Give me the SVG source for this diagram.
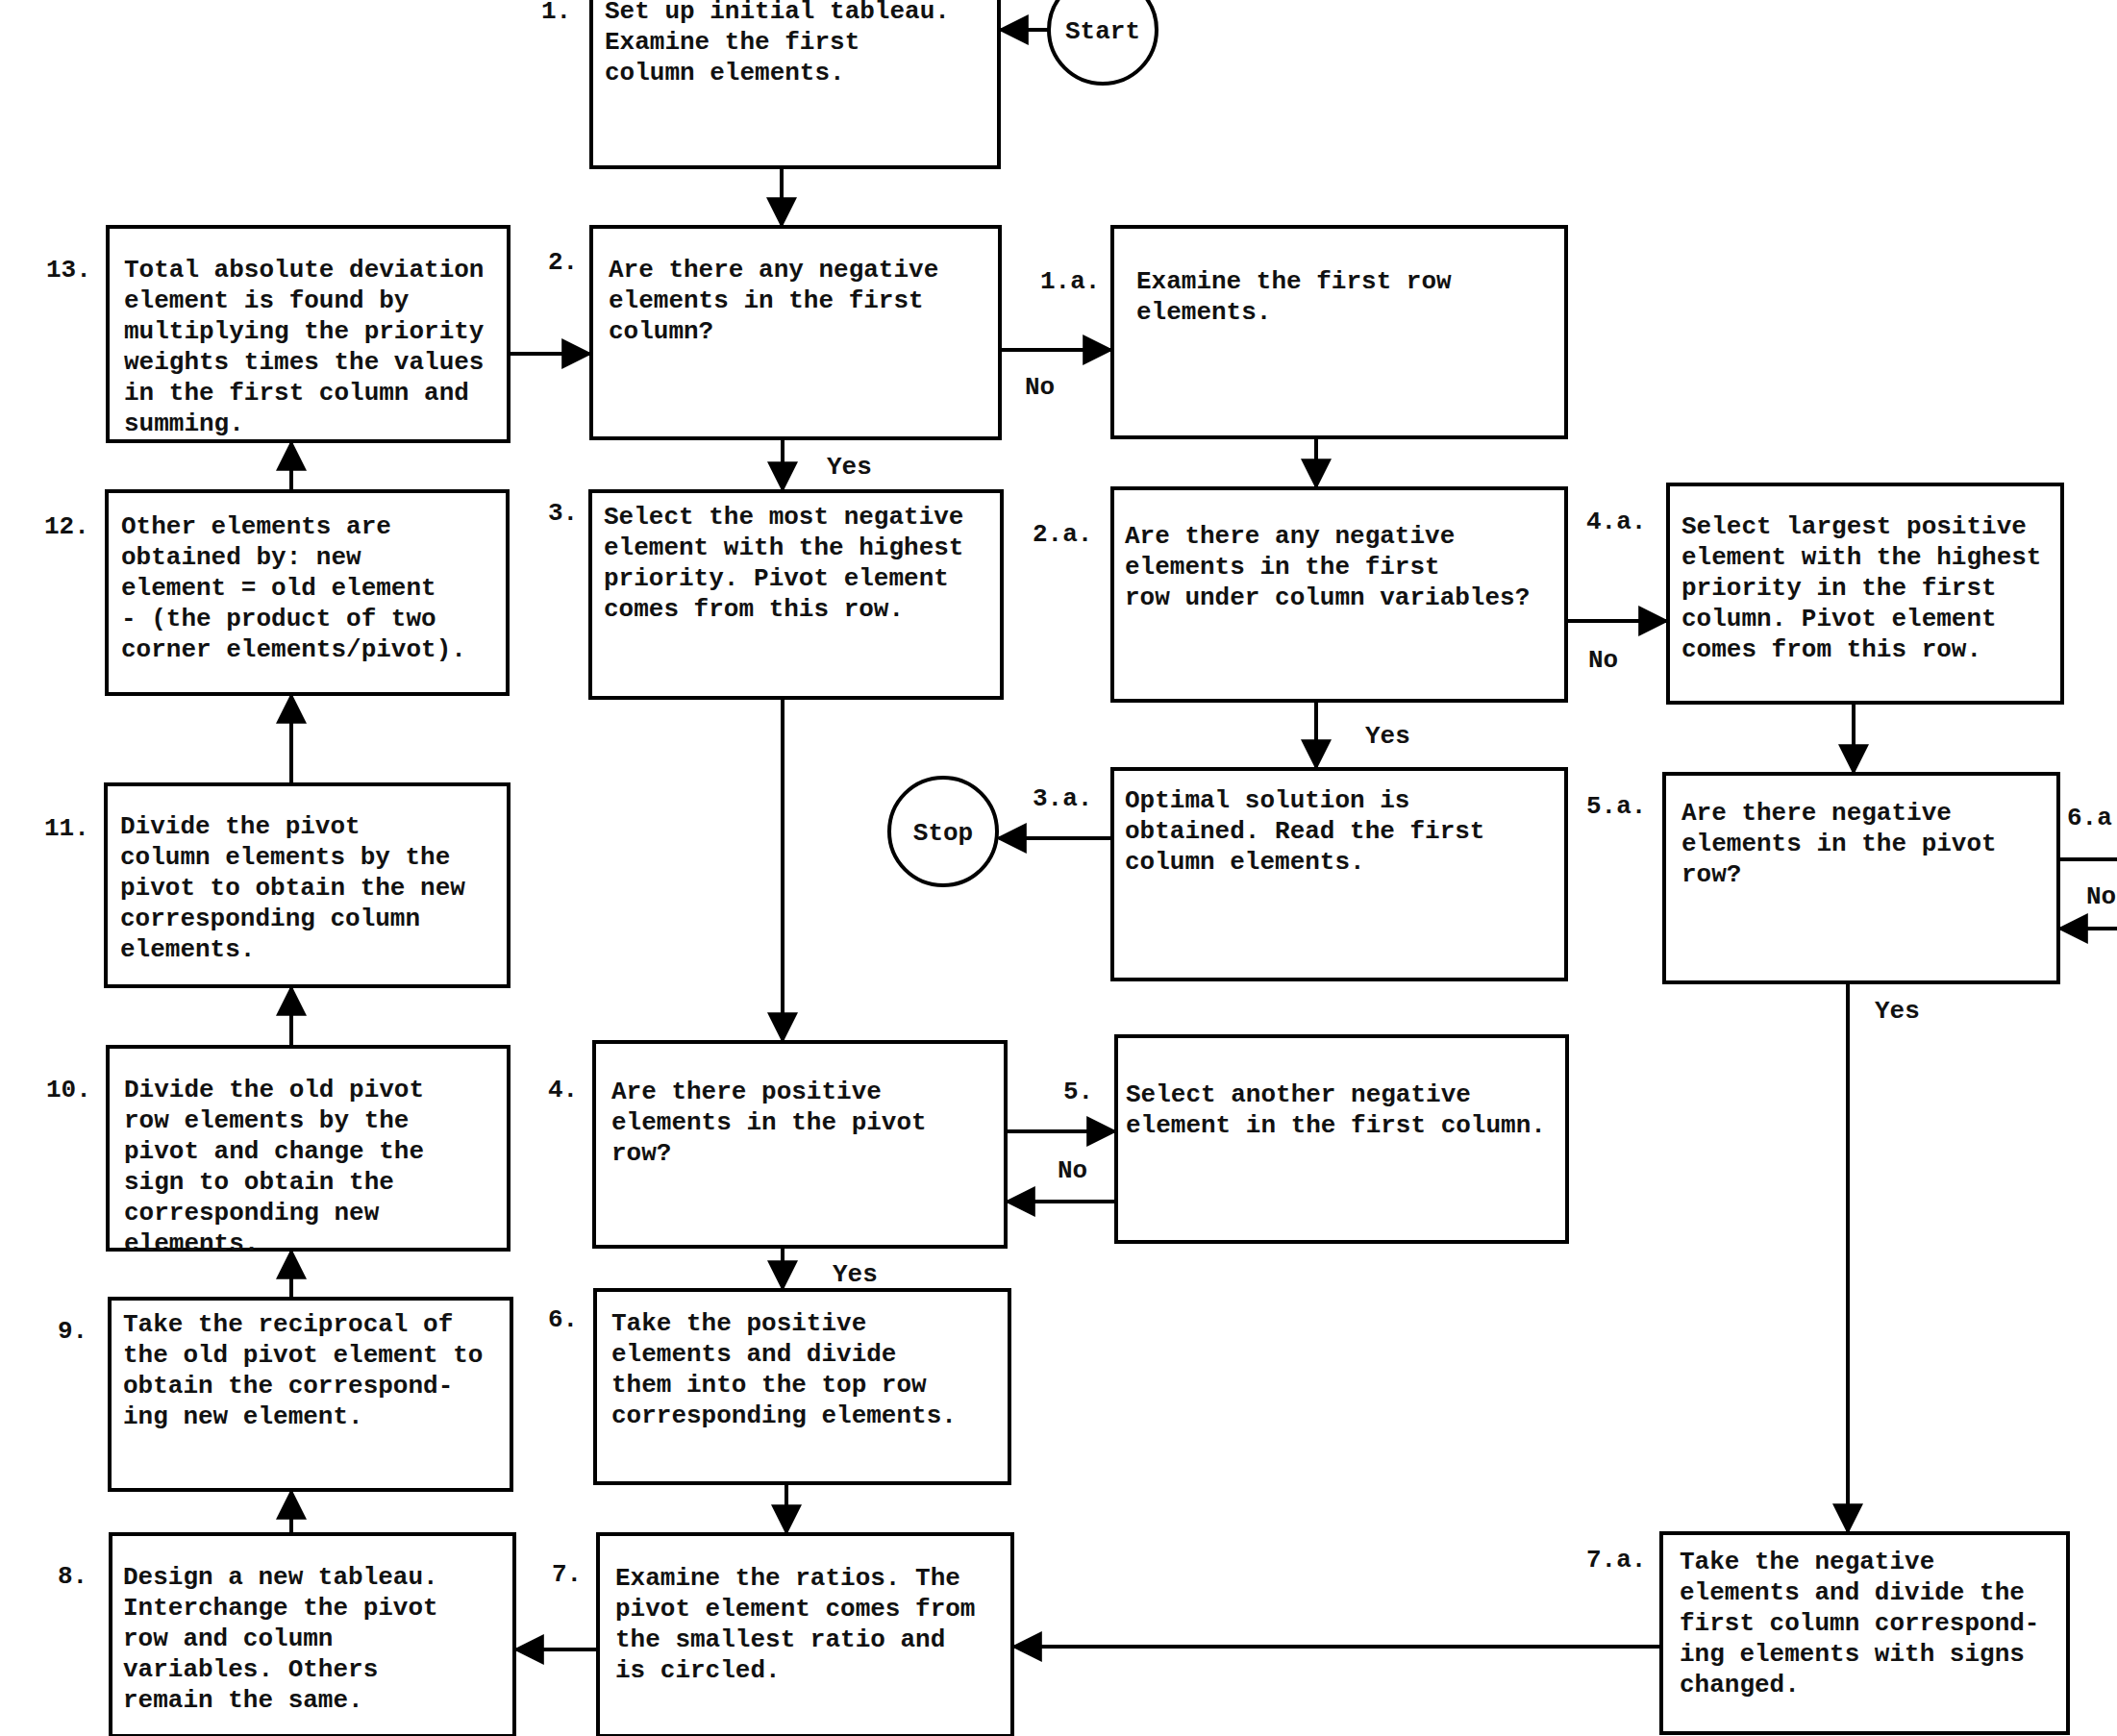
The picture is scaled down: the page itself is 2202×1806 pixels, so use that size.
<svg xmlns="http://www.w3.org/2000/svg" width="2202" height="1806" viewBox="0 0 2202 1806">
<style>
.b{fill:#fff;stroke:#000;stroke-width:4}
text{font-family:"Liberation Mono","DejaVu Sans Mono",monospace;font-size:26px;font-weight:bold;fill:#111}
.c path{fill:none;stroke:#000;stroke-width:4}
</style>
<defs><marker id="a" viewBox="0 0 10 10" refX="9" refY="5" markerWidth="9" markerHeight="8" markerUnits="strokeWidth" orient="auto"><path d="M0,0L10,5L0,10z" fill="#000"/></marker></defs>
<rect width="2202" height="1806" fill="#fff"/>
<g class="c">
<path d="M1091,31H1041" marker-end="url(#a)"/>
<path d="M813,174V234" marker-end="url(#a)"/>
<path d="M529,368H613" marker-end="url(#a)"/>
<path d="M1040,364H1155" marker-end="url(#a)"/>
<path d="M814,456V509" marker-end="url(#a)"/>
<path d="M1369,455V506" marker-end="url(#a)"/>
<path d="M1629,646H1733" marker-end="url(#a)"/>
<path d="M1369,729V798" marker-end="url(#a)"/>
<path d="M1157,872H1039" marker-end="url(#a)"/>
<path d="M1928,731V803" marker-end="url(#a)"/>
<path d="M1922,1022V1593" marker-end="url(#a)"/>
<path d="M2141,894H2202"/>
<path d="M2202,966H2143" marker-end="url(#a)"/>
<path d="M814,726V1082" marker-end="url(#a)"/>
<path d="M1046,1177H1159" marker-end="url(#a)"/>
<path d="M1161,1250H1048" marker-end="url(#a)"/>
<path d="M814,1297V1340" marker-end="url(#a)"/>
<path d="M818,1543V1594" marker-end="url(#a)"/>
<path d="M1728,1713H1055" marker-end="url(#a)"/>
<path d="M622,1716H537" marker-end="url(#a)"/>
<path d="M303,1596V1552" marker-end="url(#a)"/>
<path d="M303,1351V1302" marker-end="url(#a)"/>
<path d="M303,1089V1028" marker-end="url(#a)"/>
<path d="M303,816V724" marker-end="url(#a)"/>
<path d="M303,511V461" marker-end="url(#a)"/>
</g>
<g id="labels">
<text x="1066" y="410">No</text><text x="860" y="493">Yes</text>
<text x="1652" y="694">No</text><text x="1420" y="773">Yes</text>
<text x="1950" y="1059">Yes</text><text x="2170" y="940">No</text>
<text x="1100" y="1225">No</text><text x="866" y="1333">Yes</text>
</g>
<g id="start"><circle cx="1147" cy="31" r="56" class="b"/><text x="1147" y="40" text-anchor="middle">Start</text></g>
<g id="stop"><circle cx="981" cy="865" r="56" class="b"/><text x="981" y="874" text-anchor="middle">Stop</text></g>
<g id="n1"><rect class="b" x="615" y="-7" width="424" height="181"/><text x="563" y="19">1.</text><text x="629" y="19">Set up initial tableau.</text><text x="629" y="51">Examine the first</text><text x="629" y="83">column elements.</text></g>
<g id="n13"><rect class="b" x="112" y="236" width="417" height="223"/><text x="48" y="288">13.</text><text x="129" y="288">Total absolute deviation</text><text x="129" y="320">element is found by</text><text x="129" y="352">multiplying the priority</text><text x="129" y="384">weights times the values</text><text x="129" y="416">in the first column and</text><text x="129" y="448">summing.</text></g>
<g id="n2"><rect class="b" x="615" y="236" width="425" height="220"/><text x="570" y="280">2.</text><text x="633" y="288">Are there any negative</text><text x="633" y="320">elements in the first</text><text x="633" y="352">column?</text></g>
<g id="n1a"><rect class="b" x="1157" y="236" width="472" height="219"/><text x="1082" y="300">1.a.</text><text x="1182" y="300">Examine the first row</text><text x="1182" y="332">elements.</text></g>
<g id="n12"><rect class="b" x="111" y="511" width="417" height="211"/><text x="46" y="555">12.</text><text x="126" y="555">Other elements are</text><text x="126" y="587">obtained by:  new</text><text x="126" y="619">element = old element</text><text x="126" y="651">- (the product of two</text><text x="126" y="683">corner elements/pivot).</text></g>
<g id="n3"><rect class="b" x="614" y="511" width="428" height="215"/><text x="570" y="541">3.</text><text x="628" y="545">Select the most negative</text><text x="628" y="577">element with the highest</text><text x="628" y="609">priority.  Pivot element</text><text x="628" y="641">comes from this row.</text></g>
<g id="n2a"><rect class="b" x="1157" y="508" width="472" height="221"/><text x="1074" y="563">2.a.</text><text x="1170" y="565">Are there any negative</text><text x="1170" y="597">elements in the first</text><text x="1170" y="629">row under column variables?</text></g>
<g id="n4a"><rect class="b" x="1735" y="504" width="410" height="227"/><text x="1650" y="550">4.a.</text><text x="1749" y="555">Select largest positive</text><text x="1749" y="587">element with the highest</text><text x="1749" y="619">priority in the first</text><text x="1749" y="651">column.  Pivot element</text><text x="1749" y="683">comes from this row.</text></g>
<g id="n11"><rect class="b" x="110" y="816" width="419" height="210"/><text x="46" y="869">11.</text><text x="125" y="867">Divide the pivot</text><text x="125" y="899">column elements by the</text><text x="125" y="931">pivot to obtain the new</text><text x="125" y="963">corresponding column</text><text x="125" y="995">elements.</text></g>
<g id="n3a"><rect class="b" x="1157" y="800" width="472" height="219"/><text x="1074" y="838">3.a.</text><text x="1170" y="840">Optimal solution is</text><text x="1170" y="872">obtained.  Read the first</text><text x="1170" y="904">column elements.</text></g>
<g id="n5a"><rect class="b" x="1731" y="805" width="410" height="217"/><text x="1650" y="846">5.a.</text><text x="1749" y="853">Are there negative</text><text x="1749" y="885">elements in the pivot</text><text x="1749" y="917">row?</text><text x="2150" y="858">6.a</text></g>
<g id="n10"><rect class="b" x="112" y="1089" width="417" height="211"/><text x="48" y="1141">10.</text><text x="129" y="1141">Divide the old pivot</text><text x="129" y="1173">row elements by the</text><text x="129" y="1205">pivot and change the</text><text x="129" y="1237">sign to obtain the</text><text x="129" y="1269">corresponding new</text><text x="129" y="1301">elements.</text></g>
<g id="n4"><rect class="b" x="618" y="1084" width="428" height="213"/><text x="570" y="1141">4.</text><text x="636" y="1143">Are there positive</text><text x="636" y="1175">elements in the pivot</text><text x="636" y="1207">row?</text></g>
<g id="n5"><rect class="b" x="1161" y="1078" width="469" height="214"/><text x="1106" y="1143">5.</text><text x="1171" y="1146">Select another negative</text><text x="1171" y="1178">element in the first column.</text></g>
<g id="n9"><rect class="b" x="114" y="1351" width="418" height="199"/><text x="60" y="1392">9.</text><text x="128" y="1385">Take the reciprocal of</text><text x="128" y="1417">the old pivot element to</text><text x="128" y="1449">obtain the correspond-</text><text x="128" y="1481">ing new element.</text></g>
<g id="n6"><rect class="b" x="619" y="1342" width="431" height="201"/><text x="570" y="1380">6.</text><text x="636" y="1384">Take the positive</text><text x="636" y="1416">elements and divide</text><text x="636" y="1448">them into the top row</text><text x="636" y="1480">corresponding elements.</text></g>
<g id="n8"><rect class="b" x="115" y="1596" width="420" height="210"/><text x="60" y="1647">8.</text><text x="128" y="1648">Design a new tableau.</text><text x="128" y="1680">Interchange the pivot</text><text x="128" y="1712">row and column</text><text x="128" y="1744">variables.  Others</text><text x="128" y="1776">remain the same.</text></g>
<g id="n7"><rect class="b" x="622" y="1596" width="431" height="210"/><text x="574" y="1645">7.</text><text x="640" y="1649">Examine the ratios.  The</text><text x="640" y="1681">pivot element comes from</text><text x="640" y="1713">the smallest ratio and</text><text x="640" y="1745">is circled.</text></g>
<g id="n7a"><rect class="b" x="1728" y="1595" width="423" height="208"/><text x="1650" y="1630">7.a.</text><text x="1747" y="1632">Take the negative</text><text x="1747" y="1664">elements and divide the</text><text x="1747" y="1696">first column correspond-</text><text x="1747" y="1728">ing elements with signs</text><text x="1747" y="1760">changed.</text></g>
</svg>
